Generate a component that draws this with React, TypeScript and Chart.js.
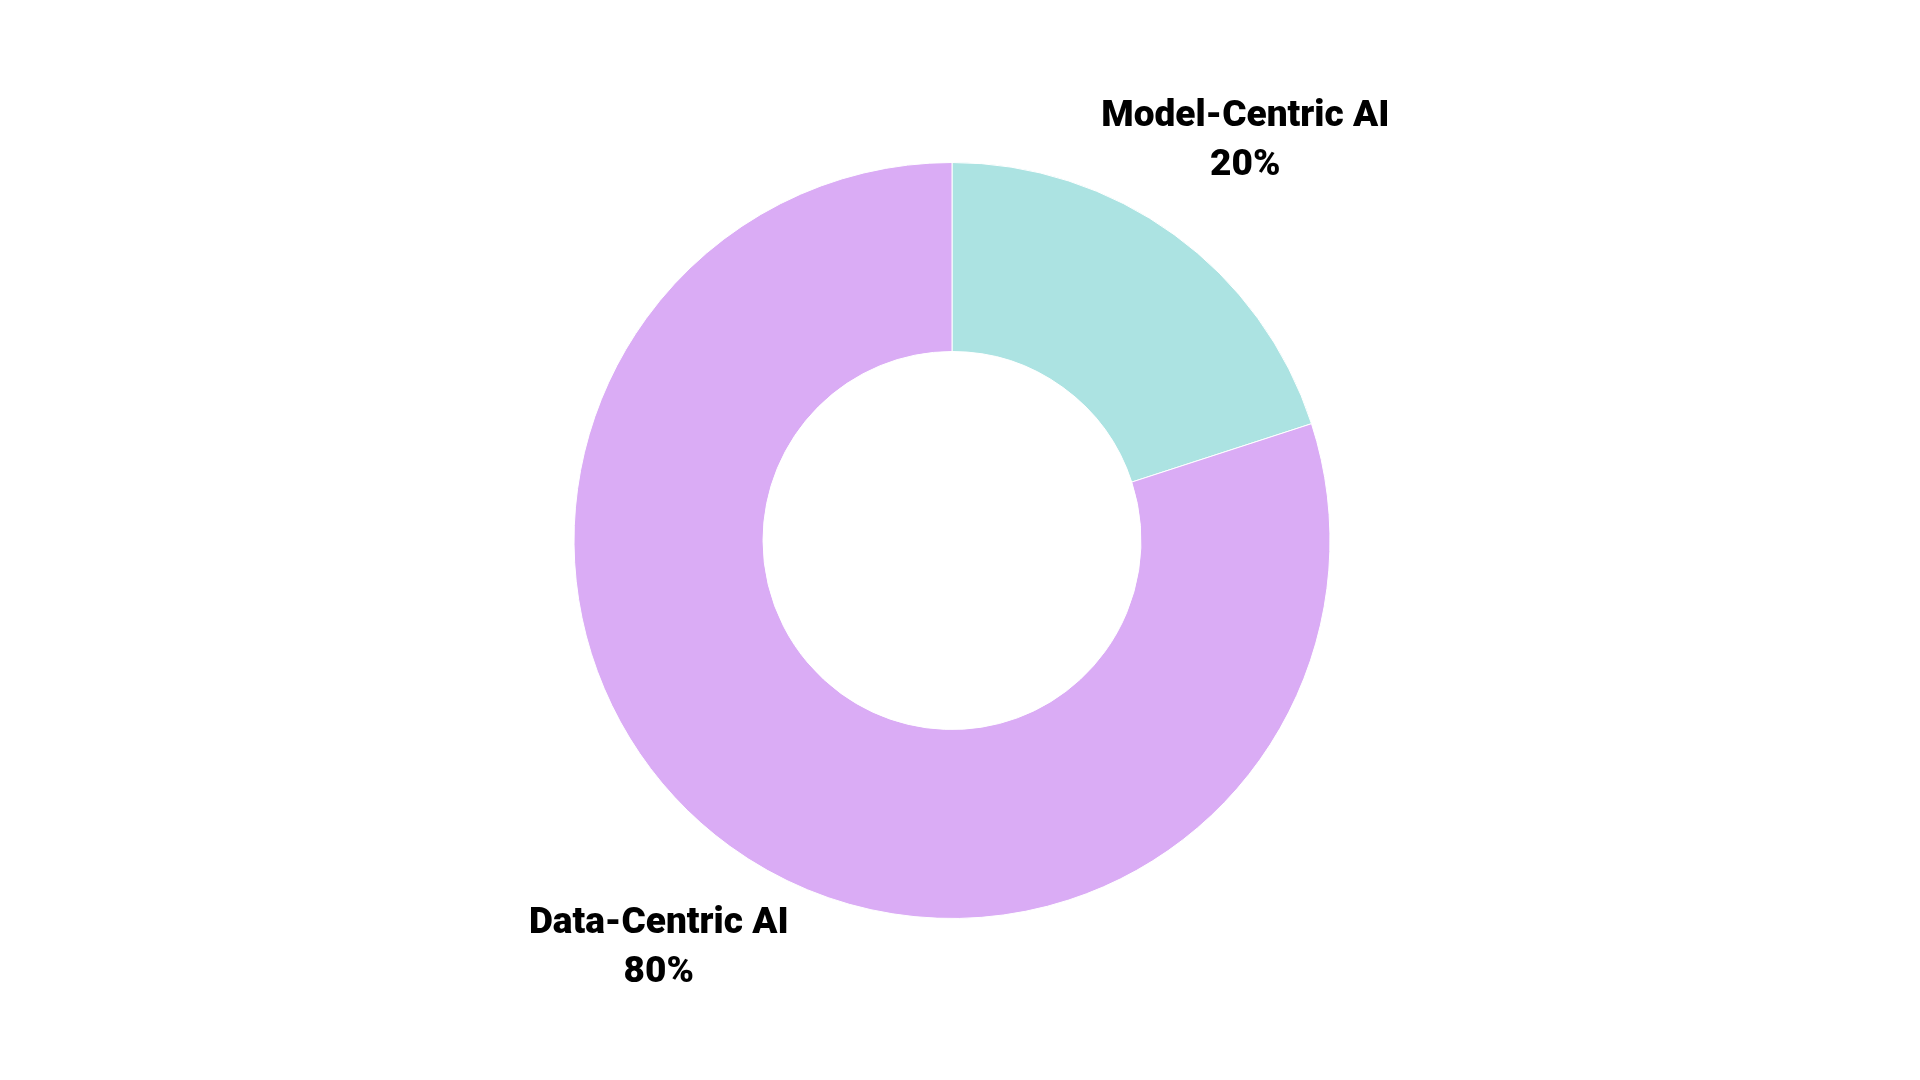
import React, { useEffect, useRef } from "react";
import { Chart, registerables } from "chart.js";

Chart.register(...registerables);

const categories = ["Model-Centric AI", "Data-Centric AI"];
const values = [20, 80];
const valueLabels = ["20%", "80%"];
const colors = ["#ACE3E2", "#DAACF5"];

const labelPlugin = {
  id: "outerLabels",
  afterDraw(chart: any) {
    const ctx = chart.ctx;
    const meta = chart.getDatasetMeta(0);
    ctx.save();
    ctx.fillStyle = "#000000";
    ctx.textAlign = "center";
    ctx.textBaseline = "middle";
    meta.data.forEach((arc: any, i: number) => {
      const mid = (arc.startAngle + arc.endAngle) / 2;
      const r = arc.outerRadius * 1.32;
      const x = arc.x + Math.cos(mid) * r;
      const y = arc.y + Math.sin(mid) * r;
      ctx.font = "900 37px 'Roboto', sans-serif";
      ctx.fillText(categories[i], x, y - 20);
      ctx.fillText(valueLabels[i], x, y + 29);
    });
    ctx.restore();
  },
};

export default function App() {
  const ref = useRef<HTMLCanvasElement | null>(null);
  useEffect(() => {
    if (!ref.current) return;
    const chart = new Chart(ref.current, {
      type: "doughnut",
      data: {
        labels: categories,
        datasets: [
          {
            data: values,
            backgroundColor: colors,
            borderColor: "#ffffff",
            borderWidth: 1,
          },
        ],
      },
      options: {
        responsive: false,
        animation: false,
        cutout: "50%",
        layout: { padding: { left: 0, right: 16, top: 162, bottom: 161 } },
        plugins: { legend: { display: false }, tooltip: { enabled: false } },
      },
      plugins: [labelPlugin],
    });
    return () => chart.destroy();
  }, []);
  return (
    <div style={{ position: "absolute", left: 0, top: 0, width: 1920, height: 1080, background: "#fff" }}>
      <canvas ref={ref} width={1920} height={1080} />
    </div>
  );
}
